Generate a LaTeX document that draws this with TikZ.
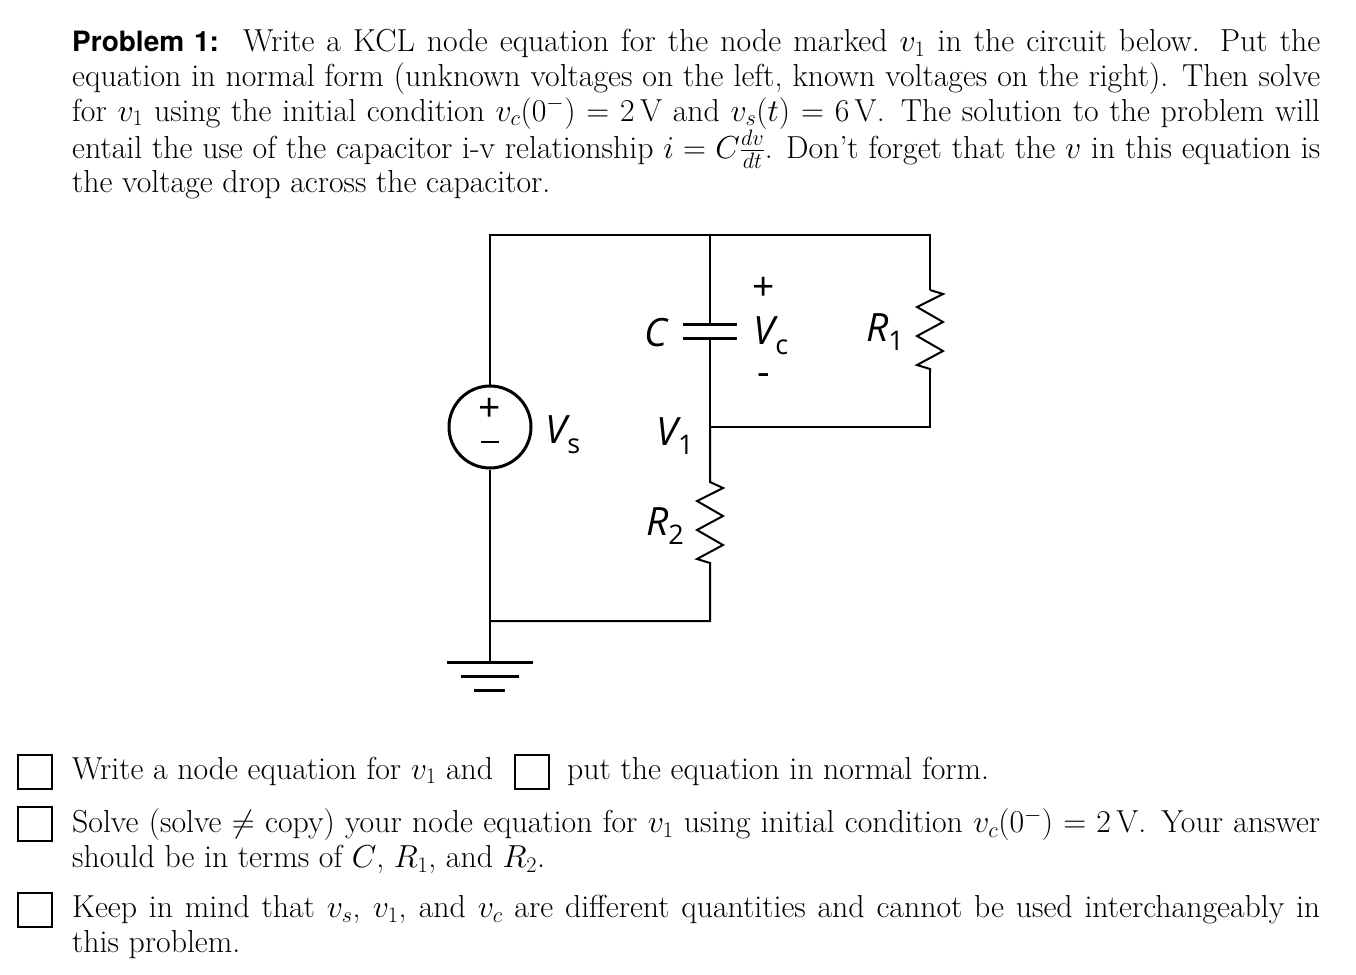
\RequirePackage{fix-cm}
\documentclass[tikz,border=0pt]{standalone}
\usepackage{fontspec}
\newfontfamily\cktfont{Open Sans}
\newfontfamily\probfont{TeX Gyre Heros}
\tikzset{wire/.style={line width=2pt},
 lbl/.style={font=\cktfont\fontsize{39}{40}\selectfont, inner sep=0pt},
 para/.style={anchor=north west, inner sep=0pt, text width=1248pt, align=justify, font=\fontsize{31.8}{34.8}\selectfont},
 cbox/.style={draw, line width=1.3pt, minimum size=34pt, inner sep=0pt}}
\newcommand{\cksub}[1]{\raisebox{-0.25em}{\fontsize{27}{27}\selectfont #1}}
\begin{document}
\begin{tikzpicture}[x=1pt,y=-1pt]
\useasboundingbox (0,0) rectangle (1356,974);
% text
\node[para] (p) at (72,29) {{\probfont\bfseries\fontsize{28}{34.8}\selectfont Problem 1:}\ \ Write a KCL node equation for the node marked $v_1$ in the circuit below. Put the\linebreak equation in normal form (unknown voltages on the left, known voltages on the right). Then solve\linebreak for $v_1$ using the initial condition $v_c(0^-)=2\,\mathrm{V}$ and $v_s(t)=6\,\mathrm{V}$. The solution to the problem will\linebreak entail the use of the capacitor i-v relationship $i=C\frac{dv}{dt}$. Don't forget that the $v$ in this equation is\linebreak the voltage drop across the capacitor.};
% circuit coordinates
\coordinate (tl) at (490,235); \coordinate (tm) at (710,235); \coordinate (tr) at (930,235);
\coordinate (cp1) at (710,324); \coordinate (cp2) at (710,338);
\coordinate (n1) at (710,427); \coordinate (rr) at (930,427);
\coordinate (r1t) at (930,290); \coordinate (r1b) at (930,373);
\coordinate (r2t) at (710,482); \coordinate (r2b) at (710,565);
\coordinate (bm) at (710,621); \coordinate (bl) at (490,621); \coordinate (g) at (490,662);
\node[circle, draw, line width=3pt, minimum size=82pt, inner sep=0pt] (vs) at (490,427) {};
\draw[wire] (vs.north) -- (tl) -- (tr) -- (r1t);
\draw[wire] (tm) -- (cp1);
\draw[line width=3pt] (683,324) -- (737,324) (683,338) -- (737,338);
\draw[wire] (cp2) -- (n1) -- (rr) -- (r1b);
\draw[wire] (r1t) -- (943,294) -- (917,307) -- (943,322) -- (917,336) -- (943,351) -- (917,365) -- (930,369) -- (r1b);
\draw[wire] (n1) -- (r2t) -- (723,488) -- (697,501) -- (723,516) -- (697,530) -- (723,545) -- (697,559) -- (710,563) -- (r2b) -- (bm) -- (bl);
\draw[wire] (vs.south) -- (g);
\draw[line width=3pt] (447,662) -- (533,662) (461,676) -- (519,676) (474,690) -- (505,690);
\node[lbl] (plus) at (490,410) {+};
\node[lbl] (minus) at (490,442) {\rule{18pt}{1.6pt}};
% labels
\node[lbl] (lc) at (656,333) {\itshape C};
\node[lbl] (lvc) at (771,336) {\itshape V\cksub{\upshape c}};
\node[lbl] (lp) at (764,289) {+};
\node[lbl] (lm) at (764,380) {-};
\node[lbl] (lr1) at (885,332) {\itshape R\cksub{\upshape 1}};
\node[lbl] (lvs) at (563,435) {\itshape V\cksub{\upshape s}};
\node[lbl] (lv1) at (675,436) {\itshape V\cksub{\upshape 1}};
\node[lbl] (lr2) at (665,526) {\itshape R\cksub{\upshape 2}};
% checklist
\node[cbox] (b1) at (35,772) {};
\node[cbox] (b2) at (532,772) {};
\node[cbox] (b3) at (35,824) {};
\node[cbox] (b4) at (35,910) {};
\node[anchor=west, inner sep=0pt, font=\fontsize{31.8}{34.8}\selectfont] (t1) at (72,771) {Write a node equation for $v_1$ and};
\node[anchor=west, inner sep=0pt, font=\fontsize{31.8}{34.8}\selectfont] (t2) at (567,771) {put the equation in normal form.};
\node[para] (t3) at (72,808) {Solve (solve $\neq$ copy) your node equation for $v_1$ using initial condition $v_c(0^-)=2\,\mathrm{V}$. Your answer\linebreak should be in terms of $C$, $R_1$, and $R_2$.};
\node[para] (t4) at (72,895) {Keep in mind that $v_s$, $v_1$, and $v_c$ are different quantities and cannot be used interchangeably in\linebreak this problem.};
\end{tikzpicture}
\end{document}
